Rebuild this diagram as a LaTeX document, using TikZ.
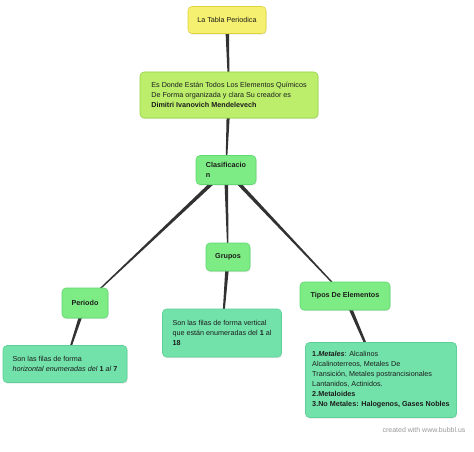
\documentclass[tikz,border=0pt]{standalone}
\usepackage{fontspec}
\setmainfont{Liberation Sans}
\usepackage{tikz}
\usetikzlibrary{calc,shadows,backgrounds}
\definecolor{TitleYellow}{RGB}{246,240,112}
\definecolor{TitleEdge}{RGB}{222,212,58}
\definecolor{DefGreen}{RGB}{188,238,108}
\definecolor{DefEdge}{RGB}{150,214,72}
\definecolor{CatGreen}{RGB}{126,236,132}
\definecolor{CatEdge}{RGB}{96,216,112}
\definecolor{DescMint}{RGB}{114,226,170}
\definecolor{DescEdge}{RGB}{92,208,152}
\definecolor{LinkGray}{RGB}{50,50,50}
\definecolor{InkDark}{RGB}{28,28,28}
\newcommand{\taper}[2]{\fill[link] ($(#1)!2pt!90:(#2)$) -- ($(#1)!2pt!-90:(#2)$) -- ($(#2)!0.5pt!90:(#1)$) -- ($(#2)!0.5pt!-90:(#1)$) -- cycle;}

\begin{document}
\begin{tikzpicture}[
x=1pt, y=-1pt,
font=\fontsize{7.2}{10}\selectfont,
bubble/.style={draw, line width=0.6pt, rounded corners=4pt, text=InkDark, inner ysep=3pt,
  drop shadow={shadow xshift=0.6pt, shadow yshift=-1.2pt, opacity=0.18}},
titlebox/.style={bubble, fill=TitleYellow, draw=TitleEdge, align=center},
defbox/.style={bubble, fill=DefGreen, draw=DefEdge, align=left},
catbox/.style={bubble, fill=CatGreen, draw=CatEdge, align=center, font=\fontsize{7.2}{10}\selectfont\bfseries},
descbox/.style={bubble, fill=DescMint, draw=DescEdge, align=left},
link/.style={fill=LinkGray}
]
\useasboundingbox (0,0) rectangle (474,452);

\node[titlebox, minimum width=78pt, minimum height=27pt] (tabla) at (227,20) {La Tabla Periodica};
\node[defbox, minimum width=178pt, minimum height=46pt] (def) at (229,95)
  {Es Donde Están Todos Los Elementos Químicos\\De Forma organizada y clara Su creador es\\\textbf{Dimitri Ivanovich Mendelevech}};
\node[catbox, align=left, minimum width=60pt, minimum height=29pt] (clas) at (226,170) {Clasificacio\\n};
\node[catbox, minimum width=44pt, minimum height=28pt] (grupos) at (228,257) {Grupos};
\node[catbox, minimum width=46pt, minimum height=30pt] (periodo) at (85,303) {Periodo};
\node[catbox, minimum width=90pt, minimum height=28pt] (tipos) at (345,296) {Tipos De Elementos};

\node[descbox, minimum width=124pt, minimum height=37pt] (perdesc) at (65,364)
  {Son las filas de forma\\\textit{horizontal enumeradas del} \textbf{1} \textit{al} \textbf{7}};
\node[descbox, minimum width=119pt, minimum height=48pt] (grudesc) at (222,333)
  {Son las filas de forma vertical\\que están enumeradas del \textbf{1} al\\\textbf{18}};
\node[descbox, minimum width=151pt, minimum height=75pt] (tipdesc) at (381,380)
  {\textbf{1.\textit{Metales}}: Alcalinos\\Alcalinoterreos, Metales De\\Transición, Metales postrancisionales\\Lantanidos, Actinidos.\\\textbf{2.Metaloides}\\\textbf{3.No Metales: Halogenos, Gases Nobles}};

\node[text=black!40, font=\fontsize{7}{8}\selectfont] (marca) at (424,430) {created with www.bubbl.us};

\begin{scope}[on background layer]
\fill[white] (0,0) rectangle (474,452);
\taper{tabla}{def}
\taper{def}{clas}
\taper{clas}{periodo}
\taper{clas}{grupos}
\taper{clas}{tipos}
\taper{periodo}{perdesc}
\taper{grupos}{grudesc}
\taper{tipos}{tipdesc}
\end{scope}
\end{tikzpicture}
\end{document}
